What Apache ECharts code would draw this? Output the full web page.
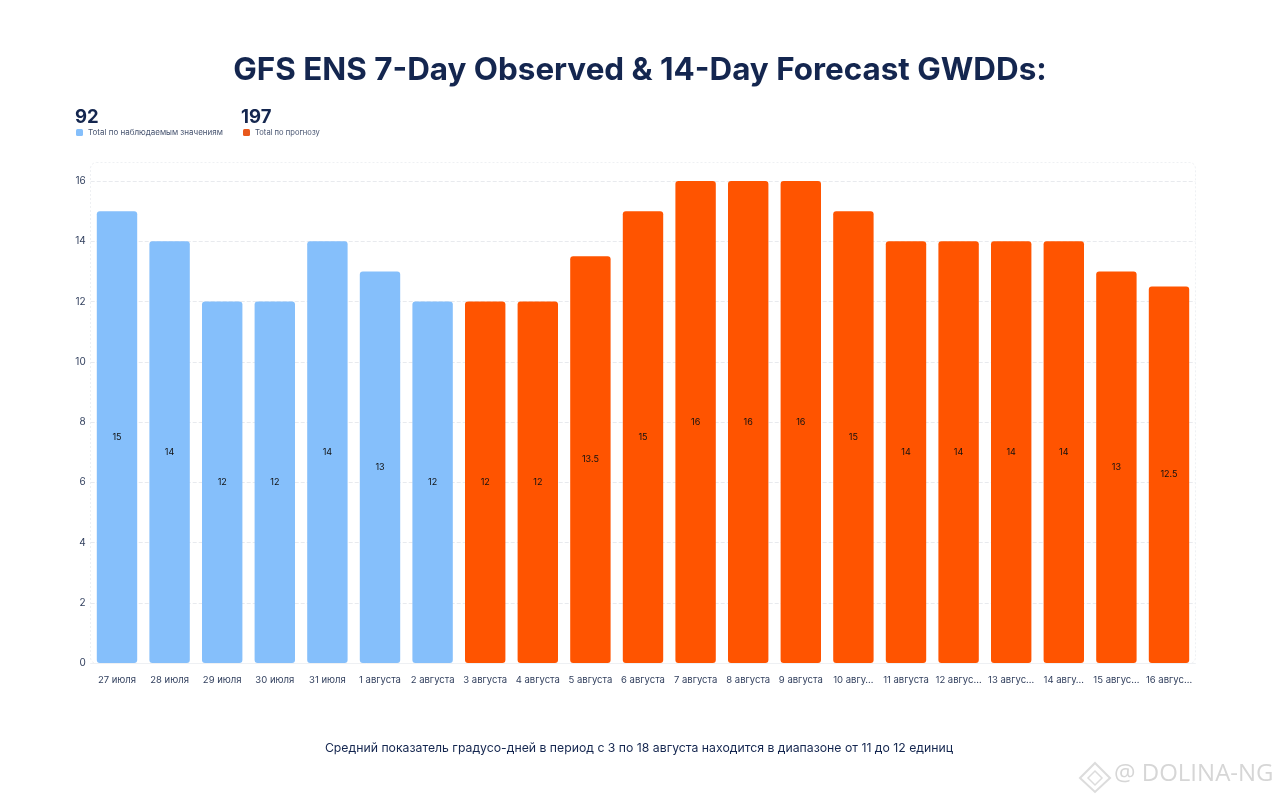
<!DOCTYPE html>
<html><head><meta charset="utf-8">
<style>html,body{margin:0;padding:0;background:#fff}#c{width:1280px;height:803px}</style>
<script src="https://cdn.jsdelivr.net/npm/echarts@6/dist/echarts.min.js"></script>
</head><body><div id="c"></div>
<script>
const categories = ['27 июля','28 июля','29 июля','30 июля','31 июля','1 августа','2 августа','3 августа','4 августа','5 августа','6 августа','7 августа','8 августа','9 августа','10 авгу…','11 августа','12 авгус…','13 авгус…','14 авгу…','15 авгус…','16 авгус…'];
const observed = [15,14,12,12,14,13,12,null,null,null,null,null,null,null,null,null,null,null,null,null,null];
const forecast = [null,null,null,null,null,null,null,12,12,13.5,15,16,16,16,15,14,14,14,14,13,12.5];
const yTicks = {min:0,max:16,interval:2};
const FONT = 'Inter, "Noto Sans", sans-serif';
const NAVY = '#14264f';
const chart = echarts.init(document.getElementById('c'), null, {renderer:'canvas'});
const barLabel = {show:true, position:'inside', color:'#111', fontSize:9, fontFamily:FONT};
const barStyle = c => ({color:c, borderRadius:3});
chart.setOption({
  animation:false,
  backgroundColor:'#fff',
  title:[
    {text:'GFS ENS 7-Day Observed & 14-Day Forecast GWDDs:', left:635, textAlign:'center', top:50,
     textStyle:{fontFamily:FONT,fontSize:31.4,fontWeight:700,color:NAVY}},
    {text:'Средний показатель градусо-дней в период с 3 по 18 августа находится в диапазоне от 11 до 12 единиц',
     left:634, textAlign:'center', top:737, textStyle:{fontFamily:FONT,fontSize:12.25,fontWeight:400,color:NAVY}}
  ],
  grid:{left:90.7,right:84.7,top:181,bottom:140},
  xAxis:{type:'category',data:categories,
    axisLine:{lineStyle:{color:'#eef0f3'}},axisTick:{show:false},
    axisLabel:{interval:0,color:'#33415f',fontSize:9.5,fontFamily:FONT,margin:12}},
  yAxis:{type:'value',min:yTicks.min,max:yTicks.max,interval:yTicks.interval,
    axisLine:{show:false},axisTick:{show:false},
    axisLabel:{color:'#33415f',fontSize:10,fontFamily:FONT,margin:5,padding:[4,0,0,0]},
    splitLine:{lineStyle:{color:'#e8eaee',type:'dashed',width:1}}},
  series:[
    {name:'Total по наблюдаемым значениям',type:'bar',data:observed,barWidth:40.4,barGap:'-100%',itemStyle:barStyle('#85bffb'),label:barLabel},
    {name:'Total по прогнозу',type:'bar',data:forecast,barWidth:40.4,itemStyle:barStyle('#ff5400'),label:barLabel}
  ],
  graphic:[
    {type:'rect',silent:true,z:-1,shape:{x:90.5,y:162.5,width:1105,height:501,r:6},style:{fill:'none',stroke:'#eef0f3',lineWidth:1,lineDash:[2,2]}},
    {type:'text',left:75,top:108,style:{text:'92',fontFamily:FONT,fontSize:18.5,fontWeight:700,fill:NAVY}},
    {type:'text',left:241,top:108,style:{text:'197',fontFamily:FONT,fontSize:18.5,fontWeight:700,fill:NAVY}},
    {type:'rect',shape:{x:76,y:129,width:7,height:7,r:1.5},style:{fill:'#85bffb'}},
    {type:'rect',shape:{x:243,y:129,width:7,height:7,r:1.5},style:{fill:'#e8581c'}},
    {type:'text',left:88,top:129,style:{text:'Total по наблюдаемым значениям',fontFamily:FONT,fontSize:8,fill:'#46536f'}},
    {type:'text',left:255,top:129,style:{text:'Total по прогнозу',fontFamily:FONT,fontSize:7.6,fill:'#46536f'}},
    {type:'text',left:1114,top:762,style:{text:'@ DOLINA-NG',fontFamily:'"Open Sans", sans-serif',fontSize:24,fill:'#d6d6d6'}},
    {type:'polygon',shape:{points:[[1095,763],[1110,778],[1095,792],[1080,778]]},style:{fill:'none',stroke:'#dcdcdc',lineWidth:2}},
    {type:'polygon',shape:{points:[[1095,771],[1102,778],[1095,785],[1088,778]]},style:{fill:'none',stroke:'#dcdcdc',lineWidth:1.5}}
  ]
});
</script></body></html>
